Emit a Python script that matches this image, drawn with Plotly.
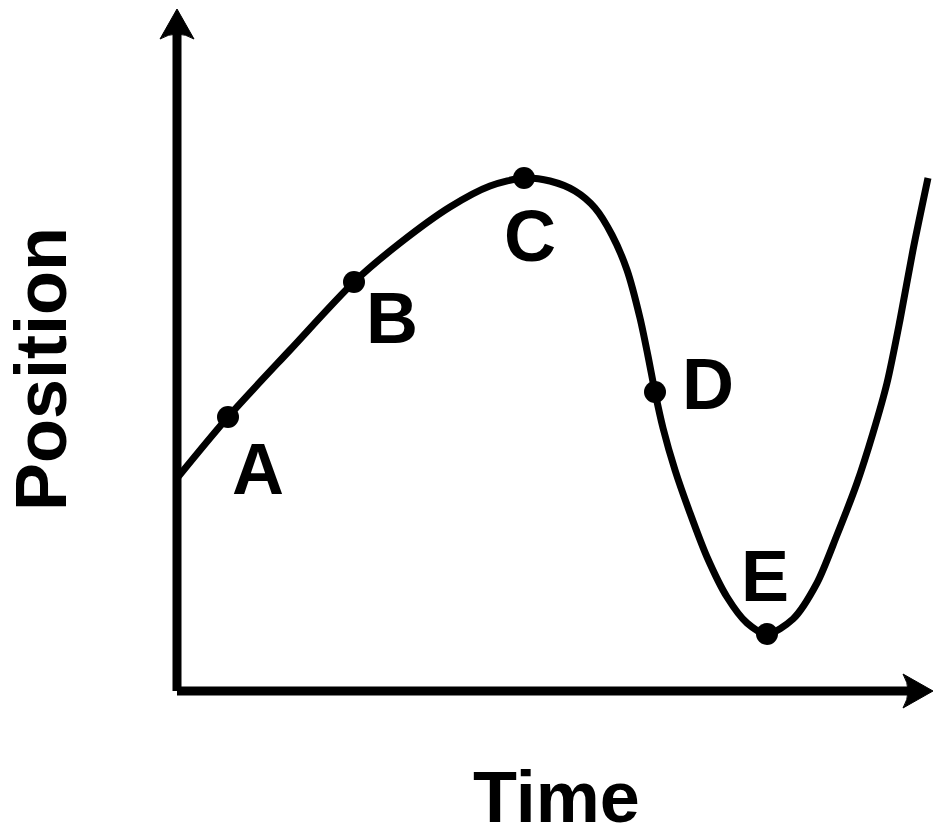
import plotly.graph_objects as go

# Curve (time, position) in chart units; origin at the axes corner
curve_t = [1, 51, 113, 177, 223, 273, 313, 347, 373, 398, 418, 435, 450, 463, 471,
           478, 486, 498, 513, 530, 550, 570, 590, 616, 640, 660, 680, 696, 710, 723, 736, 751]
curve_p = [214, 274, 341, 409, 448, 484, 505, 513, 510, 500, 483, 456, 421, 373, 335,
           299, 263, 221, 178, 134, 94, 68, 57, 72, 108, 156, 208, 258, 308, 371, 441, 513]

# Labelled points
point_names = ["A", "B", "C", "D", "E"]
point_t = [51, 177, 347, 478, 590]
point_p = [274, 409, 513, 299, 57]
# label offsets (time, position) from each point
label_dt = [30, 38, 6, 53, -2]
label_dp = [-52, -36, -58, 8, 58]

x_range = [-177, 766]
y_range = [-149, 691]
x_tip = 756
y_tip = 682

fig = go.Figure()
fig.add_trace(go.Scatter(x=curve_t, y=curve_p, mode="lines",
                         line=dict(color="black", width=7, shape="spline", smoothing=0.8),
                         hoverinfo="skip"))
fig.add_trace(go.Scatter(x=point_t, y=point_p, mode="markers",
                         marker=dict(color="black", size=22), hoverinfo="skip"))

for n, t, p, dt, dp in zip(point_names, point_t, point_p, label_dt, label_dp):
    fig.add_annotation(x=t + dt, y=p + dp, text=f"<b>{n}</b>", showarrow=False,
                       font=dict(family="Liberation Sans", size=72, color="black"),
                       xanchor="center", yanchor="middle")

# axes lines
fig.add_shape(type="line", x0=0, y0=0, x1=0, y1=y_tip - 22, line=dict(color="black", width=9))
fig.add_shape(type="line", x0=0, y0=0, x1=x_tip - 22, y1=0, line=dict(color="black", width=9))
# arrow heads
fig.add_shape(type="path", fillcolor="black", line=dict(color="black", width=1),
              path=f"M 0 {y_tip} L -17 {y_tip-30} Q 0 {y_tip-20} 17 {y_tip-30} Z")
fig.add_shape(type="path", fillcolor="black", line=dict(color="black", width=1),
              path=f"M {x_tip} 0 L {x_tip-30} 17 Q {x_tip-20} 0 {x_tip-30} -17 Z")

fig.add_annotation(x=379, y=-106, text="<b>Time</b>", showarrow=False,
                   font=dict(family="Liberation Sans", size=72, color="black"),
                   xanchor="center", yanchor="middle")
fig.add_annotation(x=-136, y=322, text="<b>Position</b>", showarrow=False, textangle=-90,
                   font=dict(family="Liberation Sans", size=72, color="black"),
                   xanchor="center", yanchor="middle")

fig.update_layout(
    width=943, height=840, margin=dict(l=0, r=0, t=0, b=0),
    paper_bgcolor="white", plot_bgcolor="white", showlegend=False,
    xaxis=dict(range=x_range, visible=False, fixedrange=True),
    yaxis=dict(range=y_range, visible=False, fixedrange=True),
)
fig.write_html("out.html")
